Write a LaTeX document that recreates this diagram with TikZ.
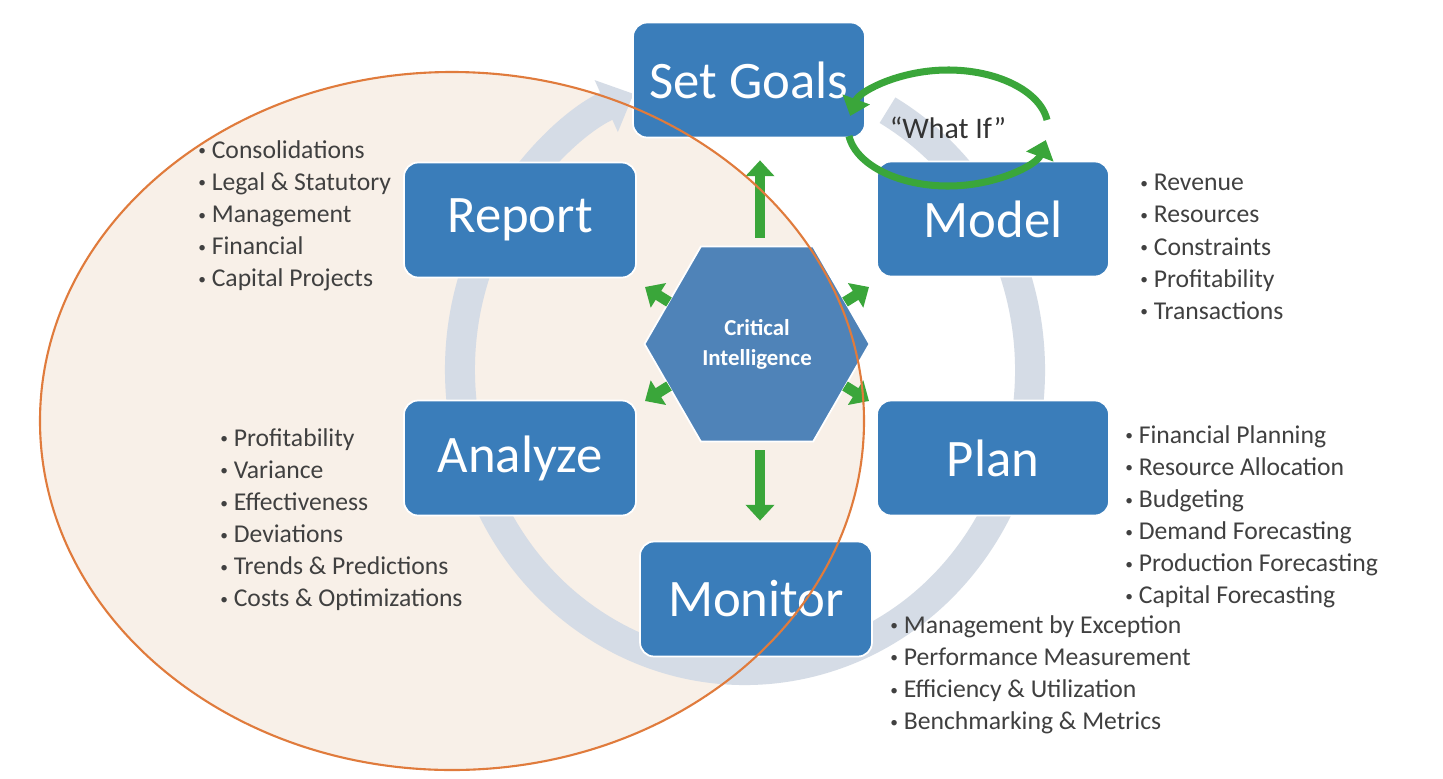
\documentclass[tikz,border=0pt]{standalone}
\usepackage{fontspec}
\setmainfont{Carlito}
\usetikzlibrary{shapes, arrows.meta, positioning}
\definecolor{boxblue}{HTML}{3A7DBA}
\definecolor{hexblue}{HTML}{4F83B8}
\definecolor{ringgray}{HTML}{D5DCE6}
\definecolor{arrowgreen}{HTML}{3AA63A}
\definecolor{ovalline}{HTML}{E07B3C}
\definecolor{ovalfill}{HTML}{F3E3D3}
\tikzstyle{stage}=[draw=white,line width=1pt,fill=boxblue,rounded corners=8pt,minimum width=4.64cm,minimum height=2.3cm,text=white,font=\fontsize{30}{32}\selectfont]
\tikzstyle{bullets}=[anchor=north west,align=left,inner sep=0pt,text=black!75,font=\fontsize{14.6}{18.3}\selectfont]
\tikzstyle{grarrow}=[arrowgreen,line width=6pt,-{Triangle[length=9pt,width=16pt]}]
\tikzstyle{loop}=[arrowgreen,line width=4pt,-{Triangle[length=10pt,width=16pt]}]
\newcommand{\bl}{\raisebox{.2ex}{\scalebox{.6}{\textbullet}}\ }
\begin{document}
\begin{tikzpicture}[x=0.02cm,y=-0.02cm,>=latex]
    \useasboundingbox (0,0) rectangle (1443,778);
    \fill[white] (0,0) rectangle (1443,778);
    % beige oval behind
    \fill[ovalfill,opacity=0.5] (452,421) ellipse [x radius=412,y radius=349];
    % cycle ring
    \draw[ringgray,line width=0.6cm,-{Triangle[length=0.6cm,width=1.1cm]}] (745,370) ++(-60:285 and 300) arc[start angle=-60,end angle=247,x radius=285,y radius=300];
    % stages
    \node[stage] (goals) at (749,80) {Set Goals};
    \node[stage] (model) at (993,219) {Model};
    \node[stage] (plan) at (993,458) {Plan};
    \node[stage] (monitor) at (756,599) {Monitor};
    \node[stage] (analyze) at (520,458) {Analyze};
    \node[stage] (report) at (520,220) {Report};
    \node[regular polygon,regular polygon sides=6,draw=white,line width=1pt,fill=hexblue,minimum size=4.5cm,inner sep=0pt,text=white,align=center,font=\bfseries\fontsize{13}{17}\selectfont] (hex) at (757,344) {Critical\\Intelligence};
    % green arrows
    \draw[grarrow] ([shift={(3,-8)}]hex.north) -- ([shift={(3,22)}]goals.south -| hex.north);
    \draw[grarrow] ([shift={(3,8)}]hex.south) -- ([shift={(3,-20)}]monitor.north -| hex.south);
    \draw[grarrow] ([shift={(-88,-42)}]hex.center) -- ++(-24,-15);
    \draw[grarrow] ([shift={(88,-42)}]hex.center) -- ++(24,-15);
    \draw[grarrow] ([shift={(-88,42)}]hex.center) -- ++(-24,15);
    \draw[grarrow] ([shift={(88,42)}]hex.center) -- ++(24,15);
    % what if loop
    \node[font=\fontsize{17}{20}\selectfont,text=black!80] (whatif) at (948,128) {``What If''};
    \draw[loop] (whatif.center) ++(-8:100 and 58) arc[start angle=-8,end angle=-168,x radius=100,y radius=58];
    \draw[loop] (whatif.center) ++(172:100 and 58) arc[start angle=172,end angle=12,x radius=100,y radius=58];
    % oval outline
    \draw[ovalline,line width=1.2pt] (452,421) ellipse [x radius=412,y radius=349];
    % bullet lists
    \node[bullets] (rlist) at (198,140) {\bl Consolidations\\\bl Legal \& Statutory\\\bl Management\\\bl Financial\\\bl Capital Projects};
    \node[bullets] (mlist) at (1140,174) {\bl Revenue\\\bl Resources\\\bl Constraints\\\bl Profitability\\\bl Transactions};
    \node[bullets] (plist) at (1125,425) {\bl Financial Planning\\\bl Resource Allocation\\\bl Budgeting\\\bl Demand Forecasting\\\bl Production Forecasting\\\bl Capital Forecasting};
    \node[bullets] (molist) at (890,615) {\bl Management by Exception\\\bl Performance Measurement\\\bl Efficiency \& Utilization\\\bl Benchmarking \& Metrics};
    \node[bullets] (alist) at (220,428) {\bl Profitability\\\bl Variance\\\bl Effectiveness\\\bl Deviations\\\bl Trends \& Predictions\\\bl Costs \& Optimizations};
\end{tikzpicture}
\end{document}
